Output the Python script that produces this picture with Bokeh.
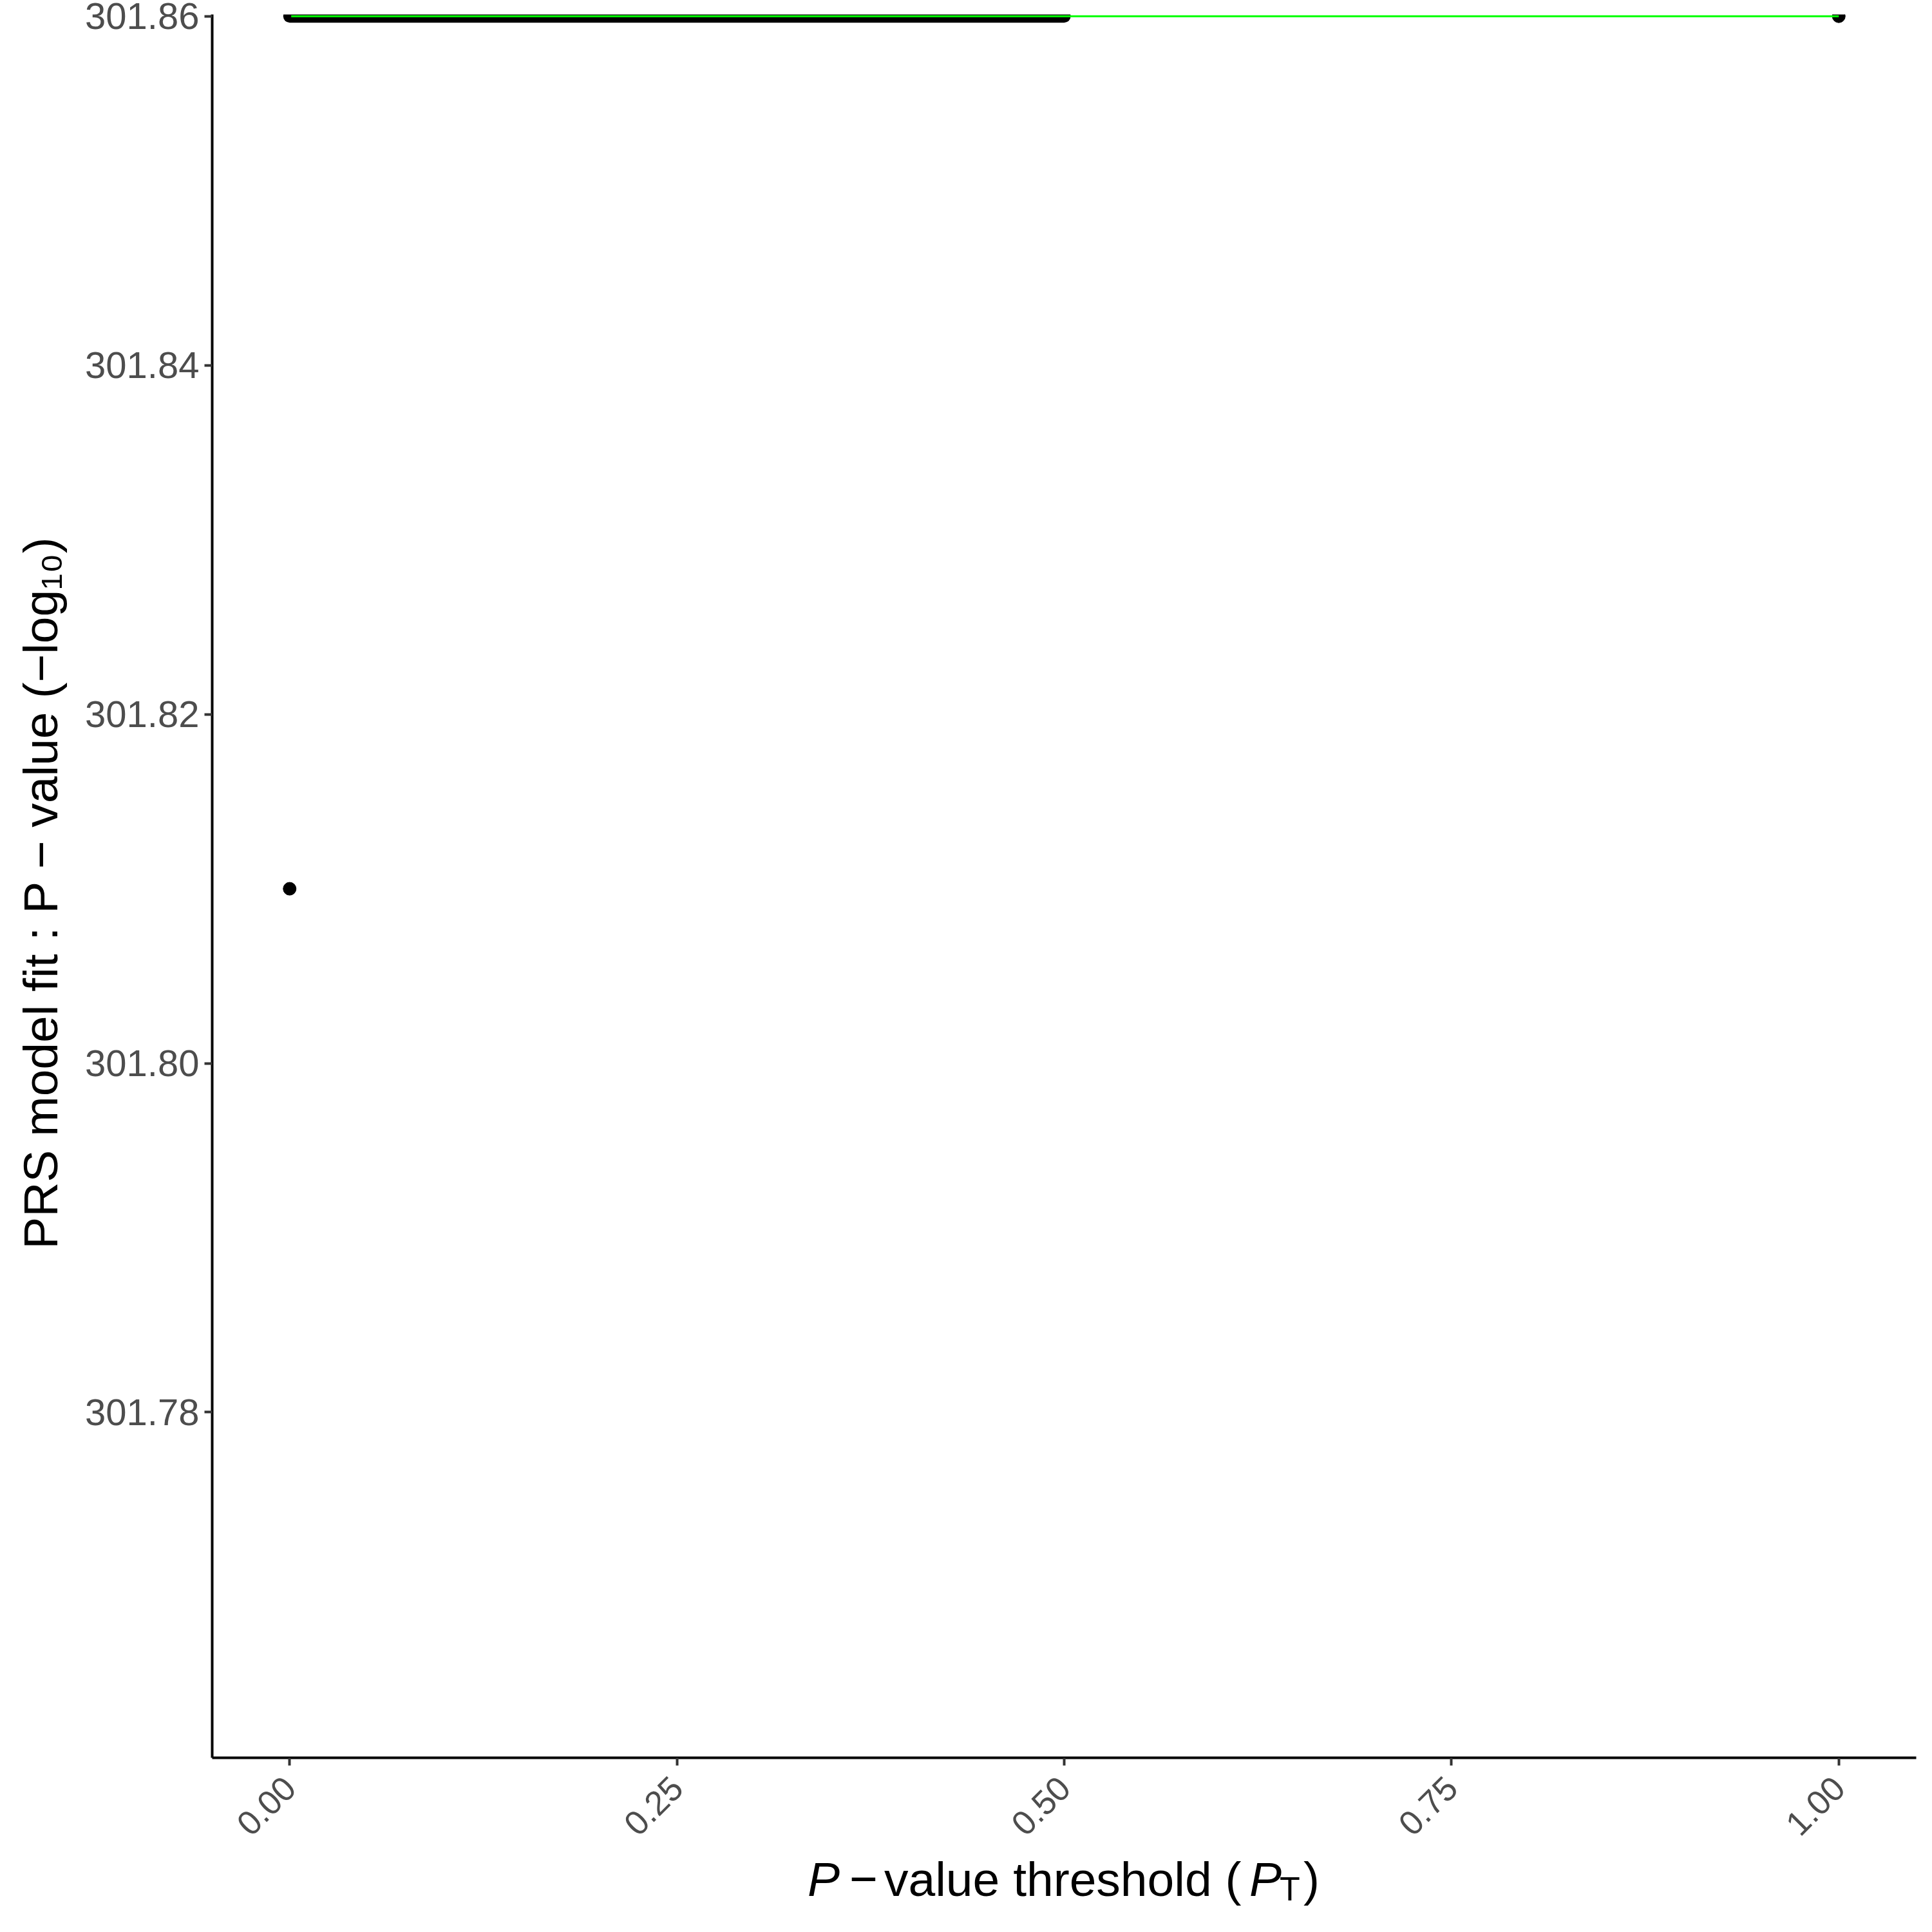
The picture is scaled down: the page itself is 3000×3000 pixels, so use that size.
import math
from bokeh.plotting import figure
from bokeh.layouts import column, row
from bokeh.models import Range1d, FixedTicker, PrintfTickFormatter
from bokeh.core.properties import value
from bokeh.embed import file_html
from bokeh.resources import INLINE

# ---------------- data ----------------
# single thresholds drawn as points
point_thresholds = [0.0, 1.0]
point_fits = [301.81, 301.86]
# high-resolution threshold sweep (dense points forming a solid band)
hires_thresholds = [0.0, 0.5]
hires_fits = [301.86, 301.86]
# bar-level thresholds joined by the green line
bar_thresholds = [0.001, 0.05, 0.1, 0.2, 0.3, 0.4, 0.5, 1.0]
bar_fits = [301.86, 301.86, 301.86, 301.86, 301.86, 301.86, 301.86, 301.86]

x_ticks = [0.0, 0.25, 0.5, 0.75, 1.0]
x_tick_labels = ["0.00", "0.25", "0.50", "0.75", "1.00"]
y_ticks = [301.78, 301.80, 301.82, 301.84, 301.86]
y_tick_labels = ["301.78", "301.80", "301.82", "301.84", "301.86"]

x_limits = [-0.05, 1.05]
y_limits = [301.7602, 301.8601]

# axis titles
x_title_parts = ["P", "\u2212", "value threshold (", "P", "T", ")"]
y_title = "PRS model fit :  P \u2212 value (\u2212log\u2081\u2080)"

# ---------------- layout ----------------
TOTAL = 2984
FW, FH = 2646, 2707             # plot frame
BL, BR, BT, BB = 329, 9, 22, 160
MAIN_W = BL + FW + BR           # 2984
MAIN_H = BT + FH + BB           # 2889
XT_H = TOTAL - MAIN_H           # strip holding the x title
FONT = "Liberation Sans"
TS, SUB = 75, 52
BASE_FIX = 26                   # distance between Bokeh's text anchor and the glyph baseline


def blank_fig(w, h):
    f = figure(width=w, height=h, x_range=Range1d(0, w), y_range=Range1d(0, h),
               output_backend="svg", toolbar_location=None,
               x_axis_location=None, y_axis_location=None,
               min_border=0, min_border_left=0, min_border_right=0,
               min_border_top=0, min_border_bottom=0)
    f.title.visible = False
    f.xgrid.visible = False
    f.ygrid.visible = False
    f.outline_line_color = None
    f.background_fill_color = "white"
    f.border_fill_color = "white"
    return f


p = figure(width=MAIN_W, height=MAIN_H,
           x_range=Range1d(*x_limits), y_range=Range1d(*y_limits),
           output_backend="svg", toolbar_location=None,
           min_border_left=BL, min_border_right=BR,
           min_border_top=BT, min_border_bottom=BB)
p.title.visible = False
p.xgrid.visible = False
p.ygrid.visible = False
p.outline_line_color = None
p.background_fill_color = "white"
p.border_fill_color = "white"

# ---------------- marks ----------------
p.line(hires_thresholds, hires_fits, line_width=20, line_cap="round", line_color="black")
p.scatter(point_thresholds, point_fits, size=20, fill_color="black", line_color="black")
p.line(bar_thresholds, bar_fits, line_width=3, line_color="#00FF00")

# ---------------- axes ----------------
for ax in (p.xaxis[0], p.yaxis[0]):
    ax.axis_line_color = "black"
    ax.axis_line_width = 4
    ax.major_tick_line_color = "#333333"
    ax.major_tick_line_width = 4
    ax.major_tick_in = 0
    ax.major_tick_out = 12
    ax.minor_tick_line_color = None
    ax.major_label_text_color = "#4D4D4D"
    ax.major_label_text_font = FONT

p.xaxis.ticker = FixedTicker(ticks=x_ticks)
p.xaxis.major_label_overrides = dict(zip(x_ticks, x_tick_labels))
p.xaxis.formatter = PrintfTickFormatter(format="%.2f")
p.xaxis.major_label_text_font_size = "53px"
p.xaxis.major_label_orientation = math.pi / 4
p.xaxis.major_label_standoff = 26

p.yaxis.ticker = FixedTicker(ticks=y_ticks)
p.yaxis.major_label_overrides = dict(zip(y_ticks, y_tick_labels))
p.yaxis.formatter = PrintfTickFormatter(format="%.2f")
p.yaxis.major_label_text_font_size = "58px"
p.yaxis.major_label_standoff = 8

p.yaxis.axis_label = y_title
p.yaxis.axis_label_text_font = FONT
p.yaxis.axis_label_text_font_size = f"{TS}px"
p.yaxis.axis_label_text_font_style = "normal"
p.yaxis.axis_label_text_color = "black"
p.yaxis.axis_label_standoff = 24

# ---------------- x title strip ----------------
xt = blank_fig(TOTAL, XT_H)
x_offsets = [0, 65, 119, 686, 733, 770]
x_sizes = [TS, TS, TS, TS, SUB, TS]
x_styles = ["italic", "normal", "normal", "italic", "normal", "normal"]
x_shift = [0, 0, 0, 0, -15, 0]
x_total = 797
x_start = BL + FW / 2 - x_total / 2
x_baseline = 41 + BASE_FIX
for txt, off, sz, st, dy in zip(x_title_parts, x_offsets, x_sizes, x_styles, x_shift):
    xt.text(x=[x_start + off], y=[x_baseline + dy], text=[txt],
            text_font=value(FONT), text_font_size=value(f"{sz}px"),
            text_font_style=st, text_color="black",
            text_align="left", text_baseline="alphabetic")

# nesting the main plot in a row keeps Bokeh from aligning the two frames
layout = column(row(p, spacing=0), xt, spacing=0)
open("out.html", "w").write(file_html(layout, INLINE))
